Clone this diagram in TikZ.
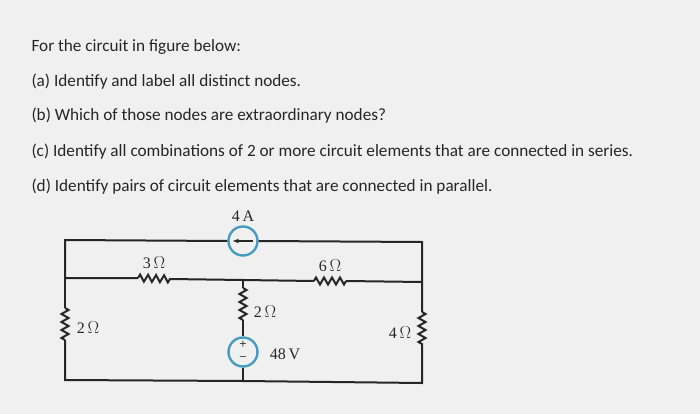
\documentclass[tikz,border=0pt]{standalone}
\usepackage{fontspec}
\setmainfont{Liberation Serif}
\newfontfamily\qfont{Carlito}
\usetikzlibrary{decorations.pathmorphing,arrows.meta}
\definecolor{srcblue}{RGB}{70,155,190}
\begin{document}
\begin{tikzpicture}[x=1pt,y=-1pt,
  wire/.style={line width=2pt,color=black!85},
  res/.style={wire,decoration={zigzag,segment length=8pt,amplitude=3.5pt},decorate},
  src/.style={circle,draw=srcblue,line width=2.4pt,minimum size=29pt,inner sep=0pt,fill=white!94!black},
  q/.style={anchor=west,font=\qfont\fontsize{17.2}{20}\selectfont,text=black!85},
  lab/.style={font=\fontsize{16}{18}\selectfont,text=black!85,inner sep=1pt}]
\fill[black!6] (0,0) rectangle (700,414);
\useasboundingbox (0,0) rectangle (700,414);
\node[q] (t0) at (28,47) {For the circuit in figure below:};
\node[q] (t1) at (28,82) {(a) Identify and label all distinct nodes.};
\node[q] (t2) at (28,116) {(b) Which of those nodes are extraordinary nodes?};
\node[q] (t3) at (28,152) {(c) Identify all combinations of 2 or more circuit elements that are connected in series.};
\node[q] (t4) at (28,187) {(d) Identify pairs of circuit elements that are connected in parallel.};
% coordinates
\coordinate (TL) at (65,240); \coordinate (TR) at (422,242);
\coordinate (ML) at (65,278); \coordinate (MM) at (243,280); \coordinate (MR) at (422,282);
\coordinate (BL) at (65,380); \coordinate (BM) at (243,381); \coordinate (BR) at (422,383);
\node[src] (cs) at (243,241) {};
\node[src] (vs) at (243,352) {};
\coordinate (r3a) at (138,278); \coordinate (r3b) at (170,279);
\coordinate (r6a) at (314,281); \coordinate (r6b) at (346,281);
\coordinate (r2ma) at (243,288); \coordinate (r2mb) at (243,320);
\coordinate (r2la) at (65,308); \coordinate (r2lb) at (65,340);
\coordinate (r4a) at (422,312); \coordinate (r4b) at (422,347);
% wires
\draw[wire] (cs.west) -- (TL) -- (ML) -- (r3a);
\draw[res] (r3a) -- (r3b);
\draw[wire] (r3b) -- (MM) -- (r6a);
\draw[res] (r6a) -- (r6b);
\draw[wire] (r6b) -- (MR);
\draw[wire] (cs.east) -- (TR) -- (MR) -- (r4a);
\draw[res] (r4a) -- (r4b);
\draw[wire] (r4b) -- (BR) -- (BM) -- (BL) -- (r2lb);
\draw[res] (r2lb) -- (r2la);
\draw[wire] (r2la) -- (ML);
\draw[wire] (MM) -- (r2ma);
\draw[res] (r2ma) -- (r2mb);
\draw[wire] (r2mb) -- (vs.north);
\draw[wire] (vs.south) -- (BM);
\draw[wire,-{Stealth[length=6pt]}] (253,241) -- (233,241);
\node[font=\fontsize{13}{13}\selectfont] (pl) at (243,345) {+};
\node[font=\fontsize{13}{13}\selectfont] (mi) at (243,359) {\textminus};
\node[lab] (l4a) at (243,216) {4\,A};
\node[lab] (l3) at (154,263) {3\,$\Omega$};
\node[lab] (l6) at (330,266) {6\,$\Omega$};
\node[lab] (l2m) at (265,312) {2\,$\Omega$};
\node[lab] (l48) at (285,354) {48\,V};
\node[lab] (l2l) at (88,328) {2\,$\Omega$};
\node[lab] (l4) at (400,333) {4\,$\Omega$};
\end{tikzpicture}
\end{document}
